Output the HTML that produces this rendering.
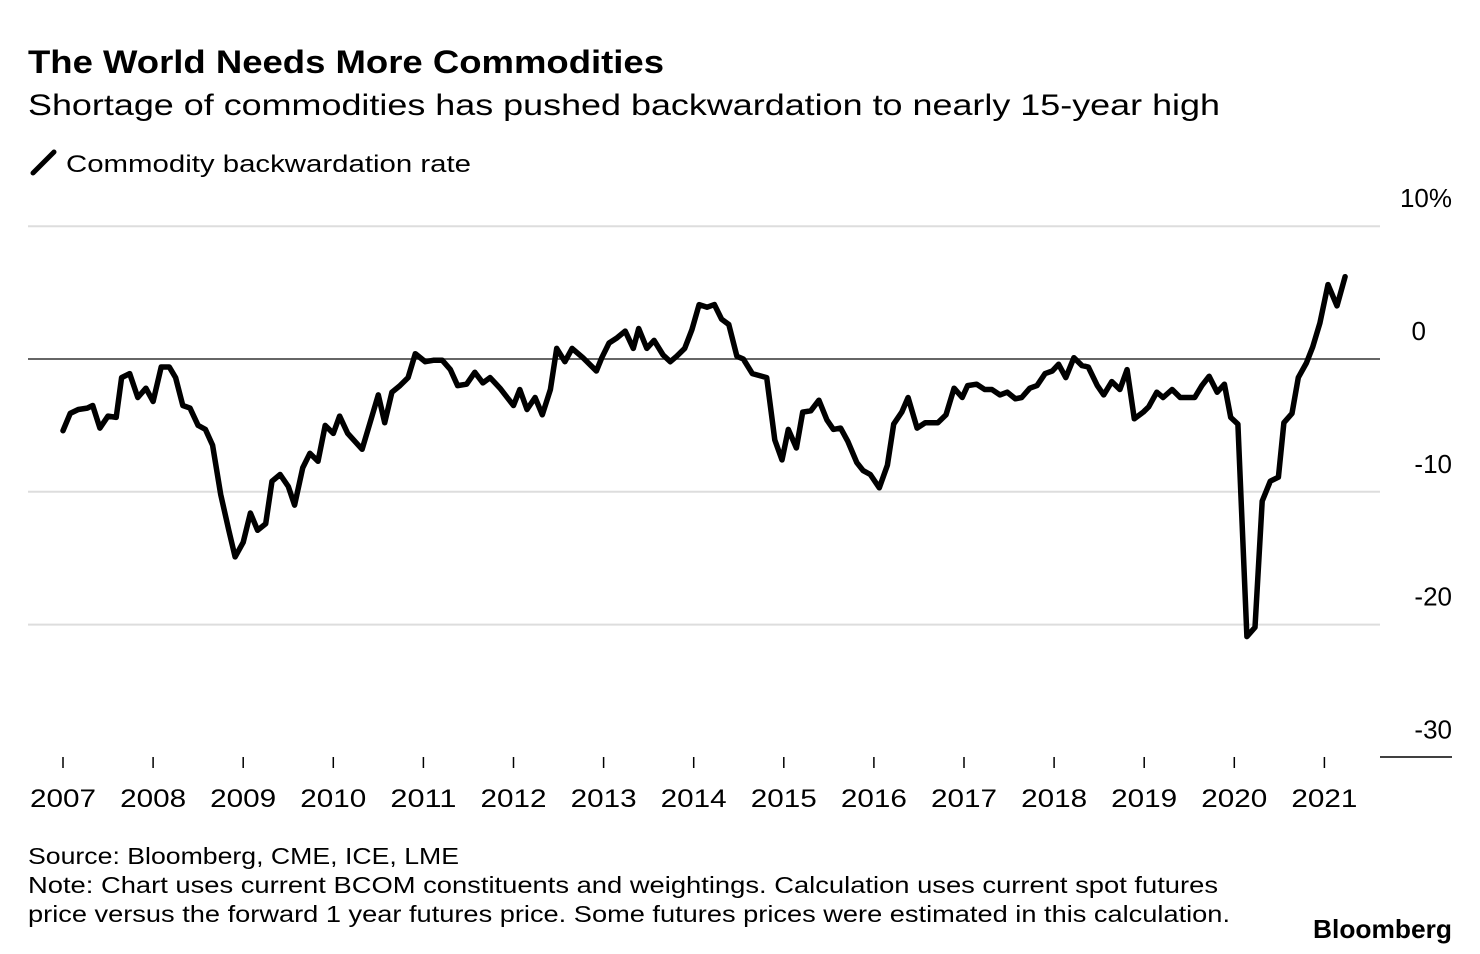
<!DOCTYPE html>
<html><head><meta charset="utf-8"><style>
body{margin:0;background:#fff;font-family:"Liberation Sans",sans-serif;}
svg{display:block}
</style></head><body>
<svg id="chart" width="1480" height="954" viewBox="0 0 1480 954" xmlns="http://www.w3.org/2000/svg">
<text x="28" y="73" font-size="32" font-weight="bold" fill="#000" textLength="636" lengthAdjust="spacingAndGlyphs">The World Needs More Commodities</text>
<text x="28" y="115" font-size="30" fill="#000" textLength="1192" lengthAdjust="spacingAndGlyphs">Shortage of commodities has pushed backwardation to nearly 15-year high</text>
<line x1="33" y1="173" x2="54" y2="152" stroke="#000" stroke-width="5" stroke-linecap="round"/>
<text x="66" y="172" font-size="24" fill="#000" textLength="405" lengthAdjust="spacingAndGlyphs">Commodity backwardation rate</text>
<g id="grid"></g>
<g id="xaxis"></g>
<path id="series" fill="none" stroke="#000" stroke-width="5.5" stroke-linejoin="round" stroke-linecap="round"/>
<text x="28" y="864" font-size="23" fill="#000" textLength="431" lengthAdjust="spacingAndGlyphs">Source: Bloomberg, CME, ICE, LME</text>
<text x="28" y="893" font-size="23" fill="#000" textLength="1190" lengthAdjust="spacingAndGlyphs">Note: Chart uses current BCOM constituents and weightings. Calculation uses current spot futures</text>
<text x="28" y="922" font-size="23" fill="#000" textLength="1202" lengthAdjust="spacingAndGlyphs">price versus the forward 1 year futures price. Some futures prices were estimated in this calculation.</text>
<text x="1313" y="938" font-size="26" font-weight="bold" fill="#000" textLength="139" lengthAdjust="spacingAndGlyphs">Bloomberg</text>
</svg>
<script>
const dates=[2007.00,2007.08,2007.17,2007.27,2007.33,2007.41,2007.50,2007.59,2007.65,2007.74,2007.83,2007.92,2008.00,2008.09,2008.18,2008.25,2008.33,2008.41,2008.50,2008.58,2008.66,2008.75,2008.84,2008.91,2009.00,2009.08,2009.16,2009.25,2009.32,2009.41,2009.50,2009.57,2009.66,2009.74,2009.83,2009.91,2010.00,2010.07,2010.16,2010.32,2010.43,2010.50,2010.57,2010.65,2010.74,2010.83,2010.91,2011.02,2011.11,2011.21,2011.30,2011.38,2011.48,2011.57,2011.66,2011.74,2011.85,2011.93,2012.00,2012.07,2012.15,2012.24,2012.32,2012.41,2012.48,2012.57,2012.65,2012.77,2012.92,2012.98,2013.06,2013.15,2013.24,2013.33,2013.39,2013.48,2013.56,2013.66,2013.74,2013.81,2013.90,2013.98,2014.06,2014.15,2014.23,2014.31,2014.39,2014.48,2014.55,2014.65,2014.81,2014.90,2014.98,2015.05,2015.14,2015.21,2015.30,2015.39,2015.48,2015.55,2015.63,2015.71,2015.81,2015.88,2015.96,2016.06,2016.15,2016.22,2016.31,2016.38,2016.48,2016.57,2016.71,2016.80,2016.89,2016.98,2017.04,2017.14,2017.23,2017.31,2017.40,2017.48,2017.57,2017.64,2017.73,2017.81,2017.90,2017.98,2018.05,2018.13,2018.22,2018.31,2018.38,2018.48,2018.55,2018.64,2018.73,2018.81,2018.89,2018.99,2019.05,2019.14,2019.21,2019.31,2019.40,2019.49,2019.56,2019.64,2019.72,2019.81,2019.89,2019.96,2020.04,2020.14,2020.23,2020.31,2020.40,2020.49,2020.55,2020.64,2020.71,2020.80,2020.87,2020.95,2021.04,2021.14,2021.23];
const values=[-5.4,-4.1,-3.8,-3.7,-3.5,-5.2,-4.3,-4.4,-1.4,-1.1,-2.9,-2.2,-3.2,-0.6,-0.6,-1.4,-3.5,-3.7,-5.0,-5.3,-6.5,-10.2,-12.9,-14.9,-13.8,-11.6,-12.9,-12.4,-9.2,-8.7,-9.6,-11.0,-8.2,-7.1,-7.7,-5.0,-5.6,-4.3,-5.6,-6.8,-4.3,-2.7,-4.8,-2.5,-2.0,-1.4,0.4,-0.2,-0.1,-0.1,-0.8,-2.0,-1.9,-1.0,-1.8,-1.4,-2.2,-2.9,-3.5,-2.3,-3.8,-2.9,-4.2,-2.3,0.8,-0.2,0.8,0.1,-0.9,0.1,1.2,1.6,2.1,0.8,2.3,0.8,1.4,0.3,-0.2,0.2,0.8,2.2,4.1,3.9,4.1,3.0,2.6,0.2,0.0,-1.1,-1.4,-6.1,-7.6,-5.3,-6.7,-4.0,-3.9,-3.1,-4.6,-5.3,-5.2,-6.2,-7.8,-8.4,-8.7,-9.7,-8.0,-4.9,-4.0,-2.9,-5.2,-4.8,-4.8,-4.2,-2.2,-2.9,-2.0,-1.9,-2.3,-2.3,-2.7,-2.5,-3.0,-2.9,-2.2,-2.0,-1.1,-0.9,-0.4,-1.4,0.1,-0.5,-0.6,-2.0,-2.7,-1.7,-2.3,-0.8,-4.5,-4.0,-3.6,-2.5,-2.9,-2.3,-2.9,-2.9,-2.9,-2.0,-1.3,-2.5,-1.9,-4.4,-4.9,-20.9,-20.2,-10.7,-9.2,-8.9,-4.8,-4.1,-1.4,-0.3,0.9,2.7,5.6,4.0,6.2];
const yTicks=[10,0,-10,-20,-30];
const yTickLabels=["10%","0","-10","-20","-30"];
const xYears=[2007,2008,2009,2010,2011,2012,2013,2014,2015,2016,2017,2018,2019,2020,2021];
const NS="http://www.w3.org/2000/svg";
function xs(d){return 63+(d-2007)*90.1;}
function ys(v){return 359-v*13.28;}
const grid=document.getElementById('grid');
yTicks.forEach((t,i)=>{
  if(t!==-30){
    const l=document.createElementNS(NS,'line');
    
    
    l.setAttribute('x1',28);l.setAttribute('x2',1380);
    l.setAttribute('y1',ys(t));l.setAttribute('y2',ys(t));
    l.setAttribute('stroke',t===0?'#333':'#ddd');l.setAttribute('stroke-width',t===0?1.5:2);
    grid.appendChild(l);
  }
  const tx=document.createElementNS(NS,'text');
  
  
  tx.setAttribute('x',t===0?1426:1452);tx.setAttribute('y',ys(t)-19);
  tx.setAttribute('text-anchor','end');tx.setAttribute('font-size','26');
  tx.textContent=yTickLabels[i];
  grid.appendChild(tx);
});
const bl=document.createElementNS(NS,'line');


bl.setAttribute('x1',1380);bl.setAttribute('x2',1452);bl.setAttribute('y1',757);bl.setAttribute('y2',757);
bl.setAttribute('stroke','#000');bl.setAttribute('stroke-width',1.5);
grid.appendChild(bl);
const xa=document.getElementById('xaxis');
xYears.forEach(y=>{
  const t=document.createElementNS(NS,'line');
  
  
  t.setAttribute('x1',xs(y));t.setAttribute('x2',xs(y));t.setAttribute('y1',757);t.setAttribute('y2',768);
  t.setAttribute('stroke','#000');t.setAttribute('stroke-width',1.5);
  xa.appendChild(t);
  const tx=document.createElementNS(NS,'text');
  
  
  tx.setAttribute('x',xs(y));tx.setAttribute('y',807);
  tx.setAttribute('text-anchor','middle');tx.setAttribute('font-size','25');
  tx.setAttribute('textLength','66');tx.setAttribute('lengthAdjust','spacingAndGlyphs');
  tx.textContent=y;
  xa.appendChild(tx);
});
document.getElementById('series').setAttribute('d',dates.map((d,i)=>(i?'L':'M')+xs(d).toFixed(1)+','+ys(values[i]).toFixed(1)).join(''));
</script>
</body></html>
